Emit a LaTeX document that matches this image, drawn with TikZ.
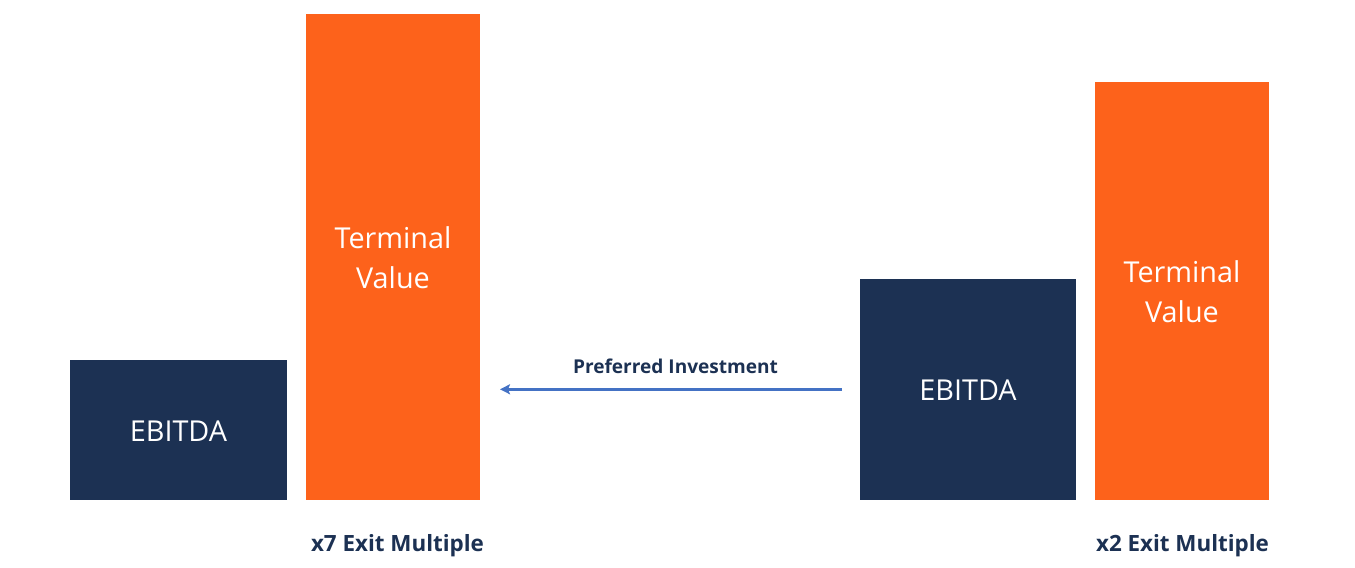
\documentclass[tikz,border=0pt]{standalone}
\usepackage{fontspec}
\usetikzlibrary{arrows.meta}
\setmainfont{Open Sans}
\definecolor{navy}{HTML}{1C3153}
\definecolor{orange1}{HTML}{FD621B}
\definecolor{arrowblue}{HTML}{4472C4}
\tikzset{
  barbox/.style={anchor=north west,inner sep=0pt,outer sep=0pt,fill=#1},
  bartext/.style={inner sep=0pt,text=white,align=center,font=\fontsize{21.6}{30}\selectfont,yshift=-0.75pt},
  caption/.style={text=navy,inner sep=0pt,font=\bfseries\fontsize{16.8}{18}\selectfont},
  arrowlabel/.style={text=navy,inner sep=0pt,font=\bfseries\fontsize{14.3}{18}\selectfont}
}
\begin{document}
\begin{tikzpicture}[x=0.75pt,y=-0.75pt]
\useasboundingbox (0,0) rectangle (1355,567);
\node[barbox=navy,minimum width=162.75pt,minimum height=105pt] (e1) at (70,360) {};
\node[barbox=orange1,minimum width=130.5pt,minimum height=364.5pt] (t1) at (306,14) {};
\node[barbox=navy,minimum width=162pt,minimum height=165.75pt] (e2) at (860,279) {};
\node[barbox=orange1,minimum width=130.5pt,minimum height=313.5pt] (t2) at (1095,82) {};
\node[bartext] (e1t) at (e1.center) {EBITDA};
\node[bartext] (t1t) at (t1.center) {Terminal\\Value};
\node[bartext] (e2t) at (e2.center) {EBITDA};
\node[bartext] (t2t) at (t2.center) {Terminal\\Value};
\coordinate (as) at (842,389.3);
\coordinate (ae) at (500,389.3);
\draw[arrowblue,line width=2.25pt,-{Stealth[length=7.5pt,width=7.5pt,inset=1.5pt]}] (as) -- (ae);
\node[arrowlabel] (l) at (675.5,366.5) {Preferred Investment};
\node[caption] (c1) at (397.5,546) {x7 Exit Multiple};
\node[caption] (c2) at (1182.5,546) {x2 Exit Multiple};
\end{tikzpicture}
\end{document}
